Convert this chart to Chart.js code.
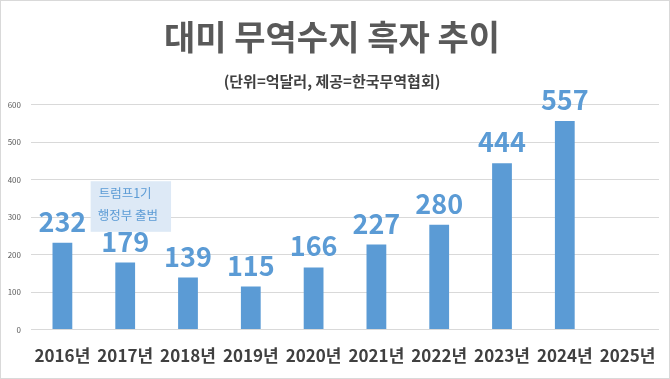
<!DOCTYPE html>
<html>
<head>
<meta charset="utf-8">
<script src="https://cdn.jsdelivr.net/npm/chart.js@4/dist/chart.umd.min.js"></script>
<style>
  html, body { margin: 0; padding: 0; background: #fff; }
  #wrap { width: 668px; height: 377px; border: 1px solid #d9d9d9; position: relative; }
</style>
</head>
<body>
<div id="wrap"><canvas id="tradeChart" width="668" height="377"></canvas></div>
<script>
// 연도
var years = ["2016년", "2017년", "2018년", "2019년", "2020년", "2021년", "2022년", "2023년", "2024년", "2025년"];
// 대미 무역수지 흑자 (억달러)
var surplus = [232, 179, 139, 115, 166, 227, 280, 444, 557, null];
// y축 눈금
var yTicks = [0, 100, 200, 300, 400, 500, 600];
// 메모
var noteLines = ["트럼프1기", "행정부 출범"];

var FONT = "'Noto Sans CJK KR', 'Noto Sans', sans-serif";
var BLUE = "#5b9bd5";

// 막대 위 값 표시
var valueLabels = {
  id: "valueLabels",
  afterDatasetsDraw: function (chart) {
    var ctx = chart.ctx;
    var meta = chart.getDatasetMeta(0);
    ctx.save();
    ctx.fillStyle = BLUE;
    ctx.font = "bold 27px " + FONT;
    ctx.textAlign = "center";
    ctx.textBaseline = "alphabetic";
    meta.data.forEach(function (bar, i) {
      if (surplus[i] == null) return;
      ctx.fillText(String(surplus[i]), bar.x, bar.y - 11);
    });
    ctx.restore();
  }
};

// 트럼프 1기 메모 상자
var noteBox = {
  id: "noteBox",
  afterDatasetsDraw: function (chart) {
    var xs = chart.scales.x, ys = chart.scales.y;
    var x0 = xs.getPixelForValue(0.45), x1 = xs.getPixelForValue(1.73);
    var y0 = ys.getPixelForValue(396), y1 = ys.getPixelForValue(261);
    var ctx = chart.ctx;
    ctx.save();
    ctx.fillStyle = "#dde9f6";
    ctx.fillRect(x0, y0, x1 - x0, y1 - y0);
    ctx.fillStyle = BLUE;
    ctx.font = "12.5px " + FONT;
    ctx.textAlign = "left";
    ctx.textBaseline = "middle";
    ctx.fillText(noteLines[0], x0 + 8, y0 + 12);
    ctx.fillText(noteLines[1], x0 + 7, y0 + 34);
    ctx.restore();
  }
};

var chart = new Chart(document.getElementById("tradeChart"), {
  type: "bar",
  data: {
    labels: years,
    datasets: [{
      data: surplus,
      backgroundColor: BLUE,
      barPercentage: 0.5,
      categoryPercentage: 0.63
    }]
  },
  options: {
    responsive: false,
    animation: false,
    layout: { padding: { left: 4, right: 10, top: 0, bottom: 4 } },
    plugins: {
      legend: { display: false },
      tooltip: { enabled: false },
      title: {
        display: true,
        text: "대미 무역수지 흑자 추이",
        color: "#595959",
        font: { family: FONT, size: 34, weight: "bold" },
        padding: { top: 16, bottom: 14 }
      },
      subtitle: {
        display: true,
        text: "(단위=억달러, 제공=한국무역협회)",
        color: "#404040",
        font: { family: FONT, size: 15, weight: "bold" },
        padding: { bottom: 15 }
      }
    },
    scales: {
      x: {
        grid: { display: false },
        border: { display: false },
        ticks: {
          color: "#404040",
          font: { family: FONT, size: 17, weight: "bold" },
          padding: 8,
          maxRotation: 0,
          autoSkip: false
        }
      },
      y: {
        min: 0,
        max: 600,
        afterBuildTicks: function (scale) {
          scale.ticks = yTicks.map(function (v) { return { value: v }; });
        },
        afterFit: function (scale) { scale.width = 26; },
        grid: { color: "#d9d9d9", drawTicks: false },
        border: { display: false },
        ticks: {
          color: "#595959",
          font: { family: FONT, size: 8 },
          padding: 10
        }
      }
    }
  },
  plugins: [valueLabels, noteBox]
});
</script>
</body>
</html>
